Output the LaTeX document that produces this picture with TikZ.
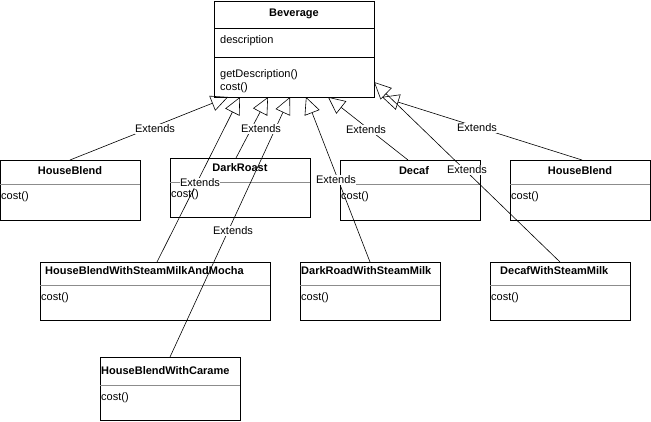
\documentclass[tikz,border=0pt]{standalone}
\usepackage{fontspec}
\setmainfont{Liberation Sans}
\usetikzlibrary{arrows.meta}
\begin{document}
\begin{tikzpicture}[x=1pt,y=-1pt,
  box/.style={draw=black,line width=0.8pt},
  sep/.style={draw=black!45,line width=0.6pt},
  ttl/.style={font=\fontsize{11}{13}\selectfont\bfseries,inner sep=0pt},
  txt/.style={font=\fontsize{11}{13}\selectfont,inner sep=0pt,anchor=west},
  ext/.style={draw=black,line width=0.6pt,-{Triangle[open,length=17pt,width=16pt]}},
  lab/.style={font=\fontsize{11}{13}\selectfont,fill=white,inner sep=0.5pt}]
\useasboundingbox (0,0) rectangle (651,421);
% Beverage
\draw[box] (214,1) rectangle (374,97);
\draw[box,line width=0.6pt] (214,28) -- (374,28) (214,57) -- (374,57);
\node[ttl] (bev) at (294,14) {Beverage};
\node[txt] (bd) at (220,41) {description};
\node[txt] (bg) at (220,75) {getDescription()};
\node[txt] (bc) at (220,88) {cost()};
\coordinate (b1) at (228,97);
\coordinate (b2) at (240,97);
\coordinate (b3) at (268,97);
\coordinate (b4) at (290,97);
\coordinate (b5) at (306,97);
\coordinate (b6) at (328,97);
\coordinate (b7) at (374,82);
\coordinate (b8) at (382,97);
% class boxes: name, x1,y1,x2,y2,sep y, title, title pos, title anchor
\newcommand{\cls}[9]{%
  \draw[box] (#2,#3) rectangle (#4,#5);
  \draw[sep] (#2,#6) -- (#4,#6);
  \node[ttl,anchor=#9] (#1t) at #8 {#7};
  \node[txt] (#1c) at (#2+1,#6+13) {cost()};
  \coordinate (#1) at (#2,#3);}
\cls{hb}{0}{160}{140}{220}{184}{HouseBlend}{(70,171)}{center}
\cls{dr}{170}{158}{310}{217}{182}{DarkRoast}{(240,168)}{center}
\cls{dc}{340}{160}{480}{220}{184}{Decaf}{(414,171)}{center}
\cls{hb2}{510}{160}{650}{220}{184}{HouseBlend}{(580,171)}{center}
\cls{hm}{40}{262}{270}{320}{285}{HouseBlendWithSteamMilkAndMocha}{(45,271)}{west}
\cls{dw}{300}{262}{440}{320}{285}{DarkRoadWithSteamMilk}{(301,271)}{west}
\cls{dd}{490}{262}{630}{320}{285}{DecafWithSteamMilk}{(500,271)}{west}
\cls{hc}{100}{357}{240}{420}{385}{HouseBlendWithCarame}{(101,371)}{west}
% connectors
\draw[ext] (70,160) coordinate (p1) -- (b1);
\draw[ext] (157,262) coordinate (p2) -- (b2);
\draw[ext] (236,158) coordinate (p3) -- (b3);
\draw[ext] (170,357) coordinate (p4) -- (b4);
\draw[ext] (370,262) coordinate (p5) -- (b5);
\draw[ext] (408,160) coordinate (p6) -- (b6);
\draw[ext] (560,262) coordinate (p7) -- (b7);
\draw[ext] (582,160) coordinate (p8) -- (b8);
\node[lab] (l1) at (155,129) {Extends};
\node[lab] (l2) at (200,183) {Extends};
\node[lab] (l3) at (261,129) {Extends};
\node[lab] (l4) at (233,231) {Extends};
\node[lab] (l5) at (336,180) {Extends};
\node[lab] (l6) at (366,130) {Extends};
\node[lab] (l7) at (467,170) {Extends};
\node[lab] (l8) at (477,128) {Extends};
\end{tikzpicture}
\end{document}
